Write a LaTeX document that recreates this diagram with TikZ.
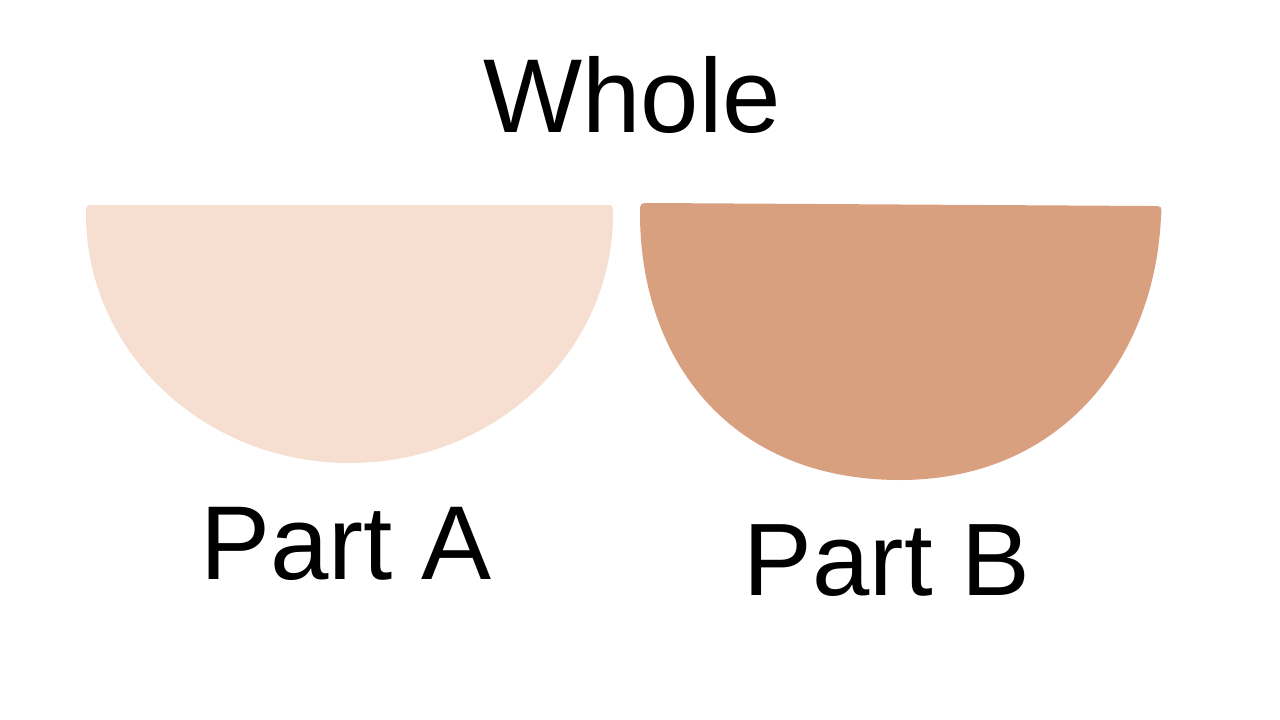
\documentclass[tikz,border=0pt]{standalone}
\usepackage{fontspec}
\setmainfont{Liberation Sans}
\definecolor{partA}{RGB}{246,223,209}
\definecolor{partB}{RGB}{216,160,127}
\tikzset{
  lbl/.style={anchor=base, inner sep=0pt, text=black},
}
\begin{document}
\begin{tikzpicture}[x=1pt,y=-1pt]
\useasboundingbox (0,0) rectangle (1280,720);
\fill[white] (0,0) rectangle (1280,720);
% Part A half disc
\fill[partA] (86,214) .. controls (86,205) .. (95,205) -- (604,205) .. controls (613,205) .. (613,214)
  arc[start angle=0, end angle=180, x radius=263.5, y radius=249] -- cycle;
% Part B half disc
\fill[partB] (640,213) .. controls (640,203) .. (650,203) -- (1152,206) .. controls (1162,206) .. (1161,216)
  .. controls (1155,360) and (1060,480) .. (900,480)
  .. controls (730,480) and (640,360) .. (640,213) -- cycle;
\node[lbl, font=\fontsize{105}{110}\selectfont] (whole) at (632,132) {Whole};
\node[lbl, font=\fontsize{105}{110}\selectfont] (parta) at (346,579) {Part A};
\node[lbl, font=\fontsize{103}{110}\selectfont] (partb) at (887,595) {Part B};
\end{tikzpicture}
\end{document}
